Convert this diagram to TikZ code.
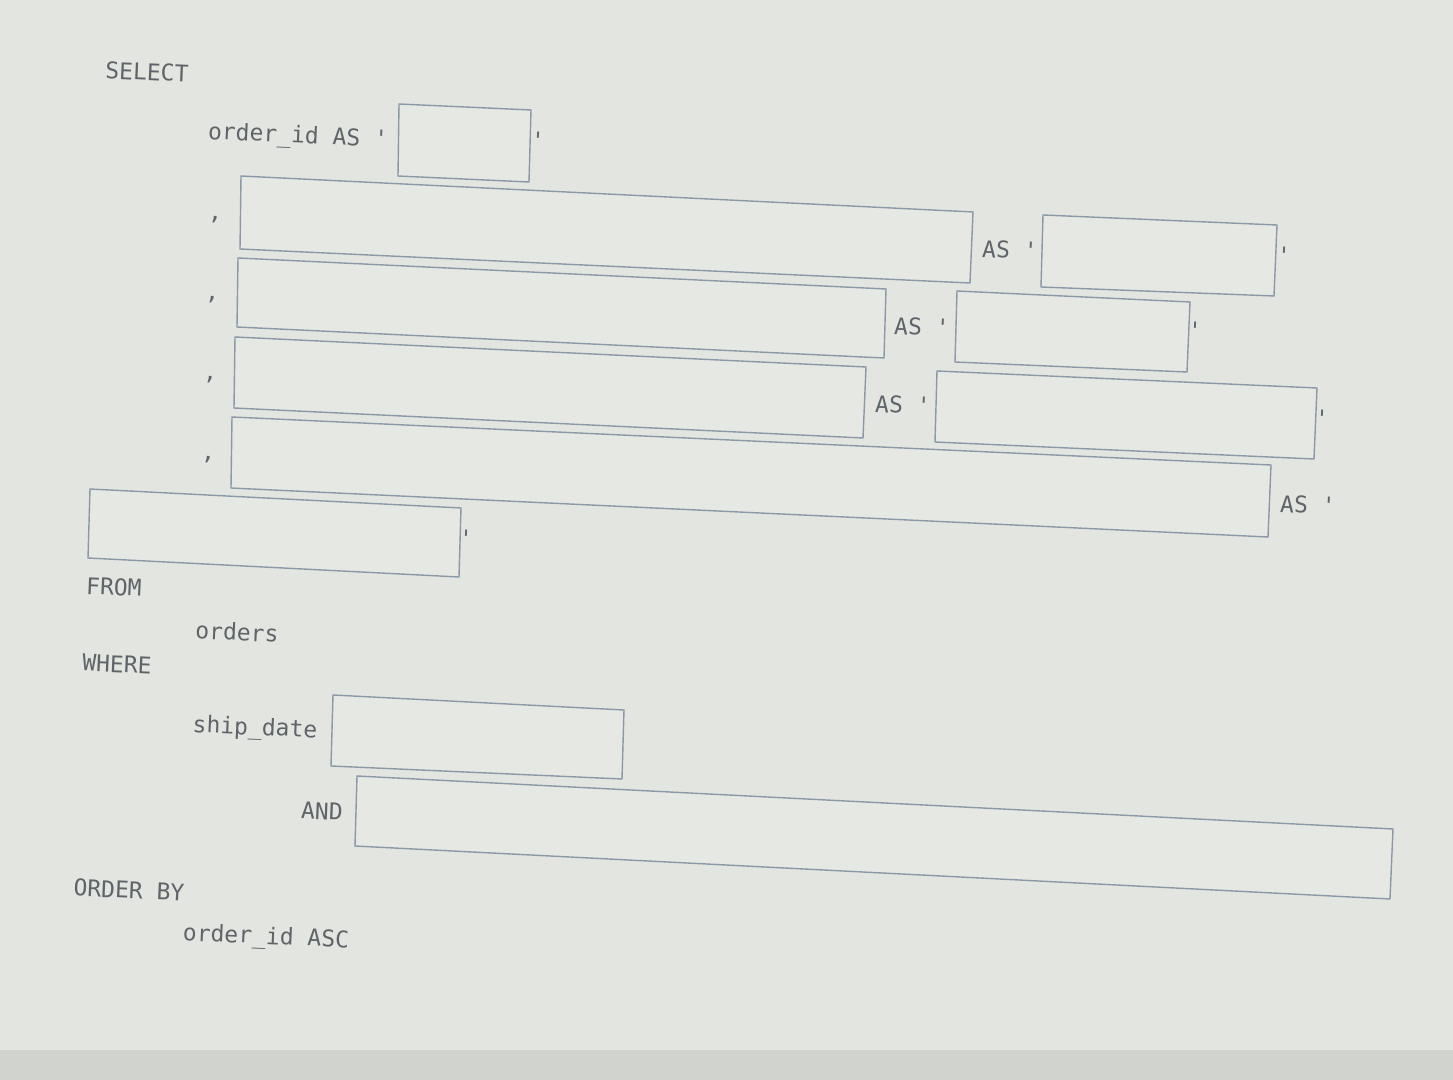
\documentclass[tikz,border=0pt]{standalone}
\usepackage{fontspec}
\setmonofont{DejaVu Sans Mono}
\definecolor{bg}{HTML}{E3E5E0}
\definecolor{bx}{HTML}{E6E8E4}
\definecolor{edge}{HTML}{8C97A8}
\definecolor{txt}{HTML}{5E6468}
\begin{document}
\begin{tikzpicture}[x=0.5pt,y=-0.5pt,
  fld/.style={draw=edge,fill=bx,line width=0.7pt},
  code/.style={text=txt,font=\ttfamily\fontsize{11.5}{12}\selectfont,rotate=-2.5,inner sep=0pt}]
\fill[bg] (0,0) rectangle (1453,1080);
\fill[bg!92!black] (0,1050) rectangle (1453,1080);
\useasboundingbox (0,0) rectangle (1453,1080);
% fields
\draw[fld] (399,104)--(531,110)--(529,182)--(398,176)--cycle;
\draw[fld] (241,176)--(973,212)--(970,283)--(240,249)--cycle;
\draw[fld] (1043,215)--(1277,225)--(1274,296)--(1041,287)--cycle;
\draw[fld] (238,258)--(886,289)--(884,358)--(237,327)--cycle;
\draw[fld] (957,291)--(1190,302)--(1187,372)--(955,362)--cycle;
\draw[fld] (235,337)--(866,367)--(863,438)--(234,408)--cycle;
\draw[fld] (937,371)--(1317,388)--(1314,459)--(935,442)--cycle;
\draw[fld] (232,417)--(1271,465)--(1268,537)--(231,488)--cycle;
\draw[fld] (90,489)--(461,508)--(459,577)--(88,558)--cycle;
\draw[fld] (333,695)--(624,710)--(622,779)--(331,766)--cycle;
\draw[fld] (357,776)--(1393,829)--(1390,899)--(355,846)--cycle;
% texts
\node[code] (sel) at (147,72) {SELECT};
\node[code] (oid) at (298,137) {order\_id AS '};
\node[code] (q1) at (538,140) {'};
\node[code] (c1) at (215,220) {,};
\node[code] (c2) at (212,300) {,};
\node[code] (c3) at (210,380) {,};
\node[code] (c4) at (208,460) {,};
\node[code] (a1) at (1010,250) {AS '};
\node[code] (q2) at (1284,255) {'};
\node[code] (a2) at (922,327) {AS '};
\node[code] (q3) at (1195,330) {'};
\node[code] (a3) at (903,405) {AS '};
\node[code] (q4) at (1322,418) {'};
\node[code] (a4) at (1308,505) {AS '};
\node[code] (q5) at (466,538) {'};
\node[code] (from) at (114,587) {FROM};
\node[code] (ord) at (237,632) {orders};
\node[code] (wh) at (117,664) {WHERE};
\node[code] (sd) at (255,729) {ship\_date};
\node[code] (and) at (322,811) {AND};
\node[code] (ob) at (129,890) {ORDER BY};
\node[code] (asc) at (266,938) {order\_id ASC};
\end{tikzpicture}
\end{document}
